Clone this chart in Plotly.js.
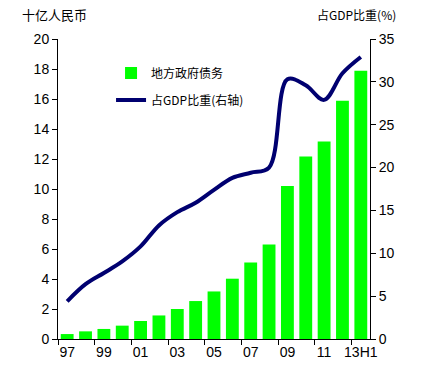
<!DOCTYPE html>
<html><head><meta charset="utf-8">
<script src="https://cdn.plot.ly/plotly-3.0.1.min.js"></script>
<style>html,body{margin:0;padding:0;background:#fff}</style>
</head><body>
<div id="chart" style="width:428px;height:370px"></div>
<script>
const categories = ['97','98','99','00','01','02','03','04','05','06','07','08','09','10','11','12','13H1'];
const debt = [0.33,0.51,0.67,0.89,1.2,1.57,2.0,2.53,3.17,4.02,5.1,6.3,10.2,12.17,13.17,15.89,17.89];
const gdpShare = [4.4,6.4,7.7,9.05,10.8,13.25,14.8,15.9,17.4,18.8,19.4,20.0,30.3,29.6,27.9,31.0,32.9];
const leftTicks = [0,2,4,6,8,10,12,14,16,18,20];
const rightTicks = [0,5,10,15,20,25,30,35];

const tickFont = {family:'Liberation Sans, Arial, sans-serif', size:14, color:'#000'};
const cjk = 'Noto Sans CJK SC, sans-serif';

const traces = [
  {type:'bar', x:categories, y:debt, name:'地方政府债务', marker:{color:'#00ff00'}, legendgroup:'a'},
  {type:'scatter', mode:'lines', x:categories, y:gdpShare, yaxis:'y2', name:'占GDP比重(右轴)',
   line:{color:'#000070', width:4, shape:'spline', smoothing:1}, legendgroup:'b'}
];
const layout = {
  width:428, height:370,
  margin:{l:58, r:58, t:39, b:31},
  paper_bgcolor:'#fff', plot_bgcolor:'#fff',
  bargap:0.3,
  showlegend:true,
  legend:{x:0.17, y:0.935, xanchor:'left', yanchor:'top', bgcolor:'rgba(0,0,0,0)',
    font:{family:cjk, size:12, color:'#000'}, traceorder:'grouped', tracegroupgap:8},
  xaxis:{type:'category', tickson:'boundaries', dtick:2, tickangle:0, ticks:'outside', ticklen:5, tickcolor:'#000',
    showline:true, linecolor:'#000', linewidth:1, showgrid:false, tickfont:tickFont, zeroline:false, automargin:false},
  yaxis:{range:[0,20], tickvals:leftTicks, ticks:'outside', ticklen:5, tickcolor:'#000', showline:true,
    linecolor:'#000', linewidth:1, showgrid:false, zeroline:false, tickfont:tickFont},
  yaxis2:{range:[0,35], tickvals:rightTicks, overlaying:'y', side:'right', ticks:'outside', ticklen:5,
    tickcolor:'#000', showline:true, linecolor:'#000', linewidth:1, showgrid:false, zeroline:false, tickfont:tickFont},
  annotations:[
    {text:'十亿人民币', xref:'paper', yref:'paper', x:-0.122, y:1.08, xanchor:'left', yanchor:'middle',
     showarrow:false, font:{family:cjk, size:13, color:'#000'}},
    {text:'占GDP比重(%)', xref:'paper', yref:'paper', x:0.958, y:1.08, xanchor:'center', yanchor:'middle',
     showarrow:false, font:{family:cjk, size:12, color:'#000'}}
  ]
};
Plotly.newPlot('chart', traces, layout, {displayModeBar:false, staticPlot:true});
</script>
</body></html>
